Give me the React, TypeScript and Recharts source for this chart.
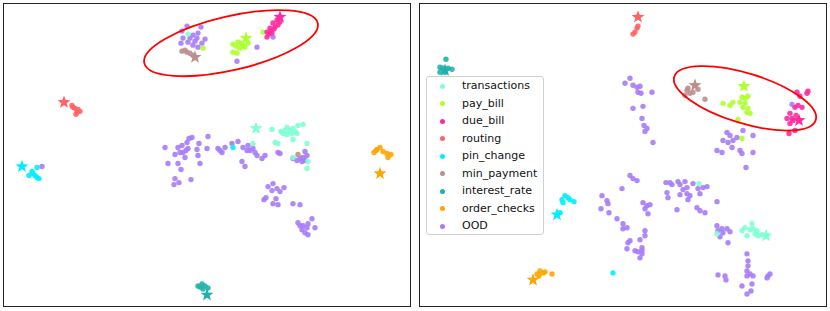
import React from "react";
import { ScatterChart, Scatter, XAxis, YAxis } from "recharts";

type P = [number, number];

const categories = [
  "transactions",
  "pay_bill",
  "due_bill",
  "routing",
  "pin_change",
  "min_payment",
  "interest_rate",
  "order_checks",
  "OOD",
];

const colors = [
  "#7fffd4",
  "#adff2f",
  "#ff2a9f",
  "#ff6363",
  "#00eeff",
  "#bc8f8f",
  "#20b2aa",
  "#ffa500",
  "#a77cf8",
];

// ---- left panel (projection coords) ----
const leftTransactions: P[] = [
  [188, 34], [272, 129], [287, 127], [290, 130], [293, 128], [298, 125], [303, 124],
  [283, 133], [287, 134], [292, 133], [297, 133], [275, 142], [278, 143], [293, 139],
  [307, 143], [253, 143], [293, 157], [308, 161], [307, 168], [281, 131], [295, 131], [285, 130],
];
const leftPayBill: P[] = [
  [233, 44], [238, 42], [243, 45], [248, 43], [240, 48], [233, 52], [237, 53],
  [236, 46], [245, 47], [241, 43], [203, 48], [263, 32],
];
const leftDueBill: P[] = [
  [267, 32], [270, 28], [273, 23], [277, 20], [280, 22], [272, 33], [267, 37],
  [275, 27], [278, 25], [271, 30], [269, 34], [274, 29],
];
const leftRouting: P[] = [[72, 105], [75, 108], [77, 112], [80, 111], [76, 114], [73, 107], [78, 109]];
const leftPinChange: P[] = [[32, 171], [33, 173], [37, 177], [39, 178], [29, 175], [37, 167], [35, 175], [233, 147]];
const leftMinPayment: P[] = [[182, 51], [187, 52], [190, 53], [193, 55], [185, 50], [298, 154]];
const leftInterestRate: P[] = [[198, 285], [202, 283], [205, 285], [208, 287], [203, 288], [200, 286]];
const leftOrderChecks: P[] = [[377, 149], [380, 147], [383, 151], [387, 153], [391, 154], [388, 157], [374, 152], [376, 150]];
const leftOOD: P[] = [
  [182, 31], [187, 26], [201, 27], [183, 38], [181, 43], [190, 38], [193, 35], [198, 33],
  [197, 38], [205, 39], [202, 43], [193, 45], [198, 47], [188, 42], [195, 41], [257, 47],
  [237, 61], [273, 37], [42, 166],
  [165, 147], [168, 163], [175, 154], [178, 147], [182, 145], [183, 152], [187, 142], [189, 138],
  [192, 137], [185, 157], [178, 163], [181, 169], [188, 148], [197, 149], [198, 155], [199, 143],
  [200, 163], [208, 136], [207, 148], [175, 178], [179, 182], [174, 184], [191, 179], [186, 150], [180, 152],
  [218, 148], [222, 152], [225, 147], [232, 143], [238, 141], [243, 147], [248, 145], [250, 150],
  [253, 148], [255, 152], [257, 155], [262, 158], [265, 155], [242, 161], [245, 166], [247, 150],
  [278, 152], [280, 153], [220, 150],
  [293, 158], [297, 160], [300, 158], [303, 157], [305, 160], [307, 155], [305, 151], [302, 161],
  [268, 186], [272, 190], [273, 183], [277, 188], [280, 191], [284, 187], [266, 197], [264, 199],
  [276, 198], [273, 203], [278, 204], [293, 203], [300, 204],
  [298, 222], [303, 225], [307, 227], [312, 218], [308, 223], [302, 229], [305, 232], [308, 234],
  [315, 227], [300, 225],
];
const leftStars: P[] = [
  [256, 128], [246, 38], [280, 17], [64, 102], [22, 166], [195, 57], [207, 294], [380, 173],
];
const leftEllipse: P = [231, 43];

// ---- right panel (projection coords) ----
const rightTransactions: P[] = [
  [742, 230], [745, 227], [752, 223], [753, 228], [757, 230], [755, 233], [758, 235],
  [747, 235], [762, 234], [750, 229], [717, 233], [699, 183],
];
const rightPayBill: P[] = [
  [742, 97], [745, 98], [748, 96], [740, 102], [733, 102], [730, 105], [723, 103],
  [743, 107], [748, 108], [747, 112], [750, 113], [738, 119], [742, 138], [745, 103],
];
const rightDueBill: P[] = [
  [797, 92], [808, 91], [807, 93], [800, 96], [798, 105], [802, 107], [795, 107], [790, 113],
  [787, 118], [793, 120], [790, 123], [795, 130], [789, 133], [796, 115], [792, 118],
];
const rightRouting: P[] = [[637, 28], [635, 32], [633, 34], [638, 26]];
const rightPinChange: P[] = [[562, 199], [565, 195], [568, 197], [570, 199], [574, 201], [563, 202], [560, 212], [613, 272]];
const rightMinPayment: P[] = [[687, 90], [685, 95], [690, 93], [693, 92], [698, 89], [688, 88], [705, 99]];
const rightInterestRate: P[] = [[446, 59], [440, 67], [443, 68], [448, 68], [452, 69], [440, 72], [445, 72]];
const rightOrderChecks: P[] = [[537, 273], [540, 270], [543, 272], [545, 271], [552, 273], [539, 275]];
const rightOOD: P[] = [
  [625, 83], [630, 78], [633, 85], [637, 87], [640, 86], [638, 92], [641, 93], [652, 92],
  [633, 108], [643, 106], [642, 118], [644, 125], [647, 128], [645, 131], [653, 142], [792, 104],
  [727, 132], [730, 135], [723, 140], [728, 142], [733, 140], [737, 137], [743, 130], [753, 135],
  [717, 150], [722, 152], [732, 147], [740, 150], [742, 153], [753, 152],
  [630, 175], [633, 178], [637, 180], [622, 188], [602, 195], [607, 200], [608, 203], [601, 208],
  [609, 212], [617, 218], [623, 223], [627, 227], [623, 228], [643, 202], [647, 205], [650, 204],
  [645, 208], [648, 213], [645, 230], [645, 235], [640, 239], [630, 240], [628, 242], [627, 248],
  [635, 250], [638, 251], [642, 247], [642, 253], [640, 257], [642, 250],
  [666, 182], [670, 182], [672, 184], [678, 181], [680, 184], [685, 181], [693, 183], [703, 187],
  [707, 186], [698, 188], [700, 193], [667, 192], [668, 197], [680, 194], [683, 189], [687, 187],
  [687, 193], [690, 195], [688, 199], [677, 209], [697, 207], [700, 210], [705, 212], [717, 201], [746, 167],
  [717, 225], [718, 230], [722, 228], [723, 232], [727, 228], [730, 231], [720, 236], [728, 242],
  [747, 253], [748, 260], [748, 265], [747, 270], [747, 275], [750, 273], [753, 275], [718, 274],
  [725, 275], [726, 279], [752, 283], [742, 285], [751, 290], [747, 293], [768, 275], [770, 273], [767, 277],
];
const rightStars: P[] = [
  [766, 235], [744, 86], [799, 120], [638, 17], [557, 214], [695, 85], [445, 70], [533, 279],
];
const rightEllipse: P = [745, 98];

const W = 408;
const H = 304;

const toRows = (pts: P[]) => pts.map(([x, y]) => ({ x, y }));

const starPath = (cx: number, cy: number, ro: number, ri: number) => {
  let d = "";
  for (let i = 0; i < 10; i++) {
    const r = i % 2 === 0 ? ro : ri;
    const a = -Math.PI / 2 + (i * Math.PI) / 5;
    d += `${i === 0 ? "M" : "L"}${cx + r * Math.cos(a)},${cy + r * Math.sin(a)}`;
  }
  return d + "Z";
};

const dotShape = (color: string) => (p: any) => (
  <circle cx={p.cx} cy={p.cy} r={2.7} fill={color} fillOpacity={0.9} />
);
const starShape = (color: string) => (p: any) => (
  <path d={starPath(p.cx, p.cy, 6.8, 2.8)} fill={color} />
);
const ellipseShape = (rx: number, ry: number, angle: number) => (p: any) => (
  <ellipse
    cx={p.cx}
    cy={p.cy}
    rx={rx}
    ry={ry}
    transform={`rotate(${angle} ${p.cx} ${p.cy})`}
    fill="none"
    stroke="#ff0000"
    strokeWidth={1.8}
  />
);

interface PanelProps {
  left: number;
  domainX: [number, number];
  series: P[][];
  stars: P[];
  ellipse: P;
  ell: [number, number, number];
}

const Panel: React.FC<PanelProps> = ({ left, domainX, series, stars, ellipse, ell }) => {
  // draw OOD first, then the intents
  const order = [8, 0, 1, 2, 3, 4, 5, 6, 7];
  return (
    <div style={{ position: "absolute", left, top: 3, width: W, height: H }}>
      <ScatterChart width={W} height={H} margin={{ top: 0, right: 0, bottom: 0, left: 0 }}>
        <XAxis type="number" dataKey="x" domain={domainX} hide />
        <YAxis type="number" dataKey="y" domain={[3, 306]} reversed hide />
        {order.map((i) => (
          <Scatter
            key={categories[i]}
            name={categories[i]}
            data={toRows(series[i])}
            shape={dotShape(colors[i])}
            isAnimationActive={false}
          />
        ))}
        {stars.map((s, i) => (
          <Scatter
            key={"star-" + categories[i]}
            data={toRows([s])}
            shape={starShape(colors[i])}
            isAnimationActive={false}
          />
        ))}
        <Scatter
          data={toRows([ellipse])}
          shape={ellipseShape(ell[0], ell[1], ell[2])}
          isAnimationActive={false}
        />
      </ScatterChart>
      <div
        style={{
          position: "absolute",
          left: 0,
          top: 0,
          width: W,
          height: H,
          boxSizing: "border-box",
          border: "1.3px solid #262626",
          pointerEvents: "none",
        }}
      />
    </div>
  );
};

const LegendBox: React.FC = () => (
  <div
    style={{
      position: "absolute",
      left: 426,
      top: 76,
      width: 118,
      height: 159,
      boxSizing: "border-box",
      border: "1px solid #d0d0d0",
      borderRadius: 3,
      background: "rgba(255,255,255,0.85)",
      fontFamily: "'DejaVu Sans', sans-serif",
      fontSize: 11,
      color: "#111",
      paddingTop: 0,
    }}
  >
    {categories.map((c, i) => (
      <div key={c} style={{ position: "relative", height: 17.5, lineHeight: "17.5px" }}>
        <span
          style={{
            position: "absolute",
            left: 13,
            top: 6.5,
            width: 5,
            height: 5,
            borderRadius: "50%",
            background: colors[i],
          }}
        />
        <span style={{ position: "absolute", left: 35, top: 0 }}>{c}</span>
      </div>
    ))}
  </div>
);

export default function App() {
  return (
    <div style={{ position: "absolute", left: 0, top: 0, width: 830, height: 311, background: "#fff" }}>
      <Panel
        left={3}
        domainX={[3, 411]}
        series={[
          leftTransactions, leftPayBill, leftDueBill, leftRouting, leftPinChange,
          leftMinPayment, leftInterestRate, leftOrderChecks, leftOOD,
        ]}
        stars={leftStars}
        ellipse={leftEllipse}
        ell={[89, 27, -13]}
      />
      <Panel
        left={419}
        domainX={[419, 827]}
        series={[
          rightTransactions, rightPayBill, rightDueBill, rightRouting, rightPinChange,
          rightMinPayment, rightInterestRate, rightOrderChecks, rightOOD,
        ]}
        stars={rightStars}
        ellipse={rightEllipse}
        ell={[74, 25, 17]}
      />
      <LegendBox />
    </div>
  );
}
